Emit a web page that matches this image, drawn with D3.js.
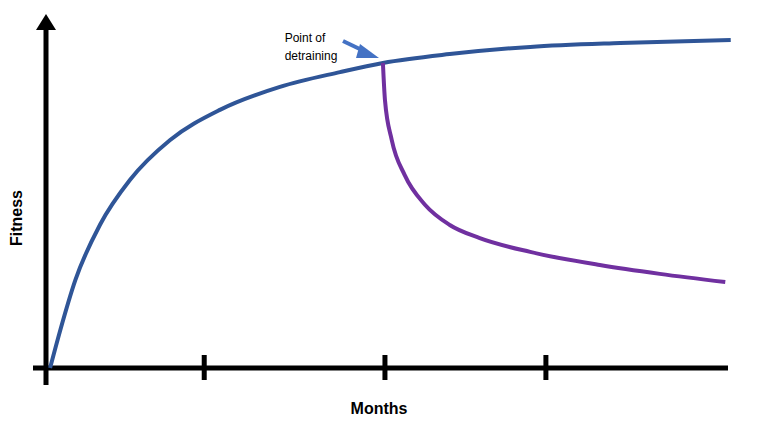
<!DOCTYPE html>
<html><head><meta charset="utf-8">
<script src="https://cdn.jsdelivr.net/npm/d3@7"></script>
<style>body{margin:0;background:#fff}</style></head>
<body><svg id="c" width="768" height="434"></svg>
<script>
const trainingMonths=[0.6,2.1,4.3,7.9,12.3,18.2,25.5,34.3,43.1,49.4,59.2,71.0,84.2,100.4];
const trainingFitness=[0,11.6,26.8,43.6,57.3,69.5,78.7,85.7,90.2,93.0,95.7,97.9,99.1,100];
const detrainMonths=[49.4,49.7,50.7,52.6,55.6,59.2,63.6,71.0,81.2,90.0,99.6];
const detrainFitness=[93.0,81.7,69.5,58.8,49.7,43.6,39.6,35.4,31.4,28.7,26.2];
const tickMonths=[23.2,49.7,73.3];
const svg=d3.select("#c");
const x=d3.scaleLinear().domain([0,100]).range([46,728]);
const y=d3.scaleLinear().domain([0,100]).range([368,40]);
const line=d3.line().x(d=>x(d[0])).y(d=>y(d[1])).curve(d3.curveMonotoneX);
// axes
svg.append("line").attr("x1",33).attr("x2",728).attr("y1",y(0)).attr("y2",y(0)).attr("stroke","#000").attr("stroke-width",5);
svg.append("line").attr("x1",46).attr("x2",46).attr("y1",28).attr("y2",385).attr("stroke","#000").attr("stroke-width",5);
svg.append("path").attr("d","M36,30 L46,14 L56,30 Z").attr("fill","#000");
svg.selectAll(".t").data(tickMonths).enter().append("line").attr("x1",d=>x(d)).attr("x2",d=>x(d)).attr("y1",355).attr("y2",380).attr("stroke","#000").attr("stroke-width",5);
svg.append("path").attr("d",line(trainingMonths.map((m,i)=>[m,trainingFitness[i]]))).attr("fill","none").attr("stroke","#2F5597").attr("stroke-width",4);
svg.append("path").attr("d",line(detrainMonths.map((m,i)=>[m,detrainFitness[i]]))).attr("fill","none").attr("stroke","#7030A0").attr("stroke-width",4);
// annotation arrow
svg.append("line").attr("x1",343).attr("y1",41).attr("x2",366).attr("y2",52).attr("stroke","#4472C4").attr("stroke-width",4);
svg.append("path").attr("d","M360,44 L379,58 L356,58 Z").attr("fill","#4472C4");
svg.append("text").attr("x",305).attr("y",42).attr("text-anchor","middle").attr("font-family","Liberation Sans, Arial").attr("font-size",12).text("Point of");
svg.append("text").attr("x",311).attr("y",60).attr("text-anchor","middle").attr("font-family","Liberation Sans, Arial").attr("font-size",12).text("detraining");
svg.append("text").attr("x",379).attr("y",414).attr("text-anchor","middle").attr("font-family","Liberation Sans, Arial").attr("font-weight","bold").attr("font-size",16).text("Months");
svg.append("text").attr("transform","translate(22,218) rotate(-90)").attr("text-anchor","middle").attr("font-family","Liberation Sans, Arial").attr("font-weight","bold").attr("font-size",16).text("Fitness");
</script></body></html>
